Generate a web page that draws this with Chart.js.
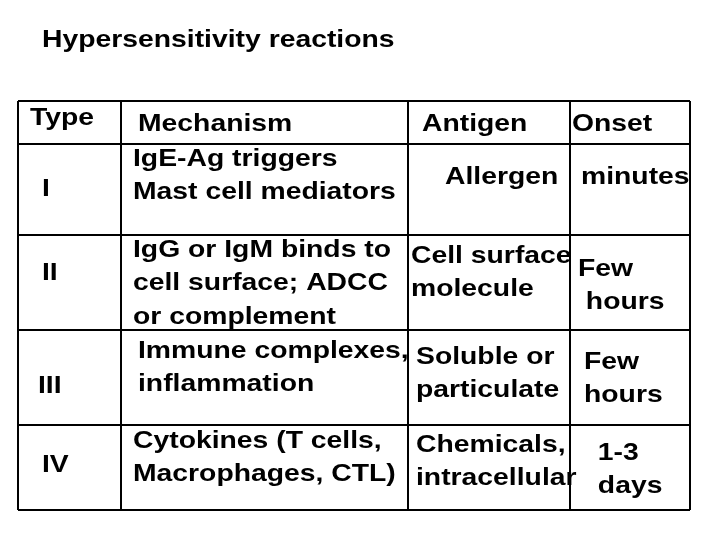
<!DOCTYPE html>
<html>
<head>
<meta charset="utf-8">
<script src="https://cdn.jsdelivr.net/npm/chart.js@4.4.0/dist/chart.umd.min.js"></script>
<style>
  html, body { margin: 0; padding: 0; background: #fff; }
  #wrap { width: 720px; height: 540px; }
</style>
</head>
<body>
<div id="wrap"><canvas id="tbl"></canvas></div>
<script>
// Table content
const title = 'Hypersensitivity reactions';
const headers = ['Type', 'Mechanism', 'Antigen', 'Onset'];
const types = ['I', 'II', 'III', 'IV'];
const mechanisms = [
    ['IgE-Ag triggers', 'Mast cell mediators'],
    ['IgG or IgM binds to', 'cell surface; ADCC', 'or complement'],
    ['Immune complexes,', 'inflammation'],
    ['Cytokines (T cells,', 'Macrophages, CTL)']
];
const antigens = [
    ['Allergen'],
    ['Cell surface', 'molecule'],
    ['Soluble or', 'particulate'],
    ['Chemicals,', 'intracellular']
];
const onsets = [
    ['minutes'],
    ['Few', ' hours'],
    ['Few', 'hours'],
    [' 1-3', ' days']
];

// layout (in page units, mapped through the chart scales)
const colEdges = [18, 121, 408, 570, 690];
const rowEdges = [101, 144, 235, 330, 425, 510];
const headerPos = [[30, 118], [138, 124], [422, 124], [572, 124]];
const typePos = [[42, 189], [42, 273], [38, 386], [42, 465]];
const mechPos = [[133, 159], [133, 250], [138, 351], [133, 441]];
const antPos = [[445, 177], [411, 256], [416, 357], [416, 445]];
const onsetPos = [[581, 177], [578, 269], [584, 362], [590, 453]];
const lineGap = 33.5;
const stretch = 1.18;

const tablePlugin = {
    id: 'tablePlugin',
    afterDraw(chart) {
        const ctx = chart.ctx;
        const xs = chart.scales.x, ys = chart.scales.y;
        const px = v => xs.getPixelForValue(v);
        const py = v => ys.getPixelForValue(v);
        ctx.save();
        ctx.strokeStyle = '#000';
        ctx.lineWidth = 2;
        // horizontal lines
        rowEdges.forEach(r => {
            ctx.beginPath();
            ctx.moveTo(px(colEdges[0]), py(r));
            ctx.lineTo(px(colEdges[colEdges.length - 1]), py(r));
            ctx.stroke();
        });
        // vertical lines
        colEdges.forEach(c => {
            ctx.beginPath();
            ctx.moveTo(px(c), py(rowEdges[0]));
            ctx.lineTo(px(c), py(rowEdges[rowEdges.length - 1]));
            ctx.stroke();
        });

        ctx.fillStyle = '#000';
        ctx.textBaseline = 'middle';
        ctx.textAlign = 'left';
        ctx.font = 'bold 24px "Liberation Sans", Arial, sans-serif';
        const text = (t, x, y) => {
            ctx.save();
            ctx.translate(px(x), py(y));
            ctx.scale(stretch, 1);
            ctx.fillText(t, 0, 0);
            ctx.restore();
        };
        text(title, 42, 40);

        const lines = (arr, pos) => arr.forEach((t, i) => text(t, pos[0], pos[1] + i * lineGap));
        headers.forEach((h, i) => text(h, headerPos[i][0], headerPos[i][1]));
        types.forEach((t, i) => text(t, typePos[i][0], typePos[i][1]));
        mechanisms.forEach((m, i) => lines(m, mechPos[i]));
        antigens.forEach((a, i) => lines(a, antPos[i]));
        onsets.forEach((o, i) => lines(o, onsetPos[i]));
        ctx.restore();
    }
};

new Chart(document.getElementById('tbl'), {
    type: 'scatter',
    data: { datasets: [{ data: [] }] },
    options: {
        responsive: true,
        maintainAspectRatio: false,
        animation: false,
        layout: { padding: 0 },
        plugins: { legend: { display: false }, tooltip: { enabled: false } },
        scales: {
            x: { type: 'linear', min: 0, max: 720, display: false },
            y: { type: 'linear', min: 0, max: 540, reverse: true, display: false }
        }
    },
    plugins: [tablePlugin]
});
</script>
</body>
</html>
